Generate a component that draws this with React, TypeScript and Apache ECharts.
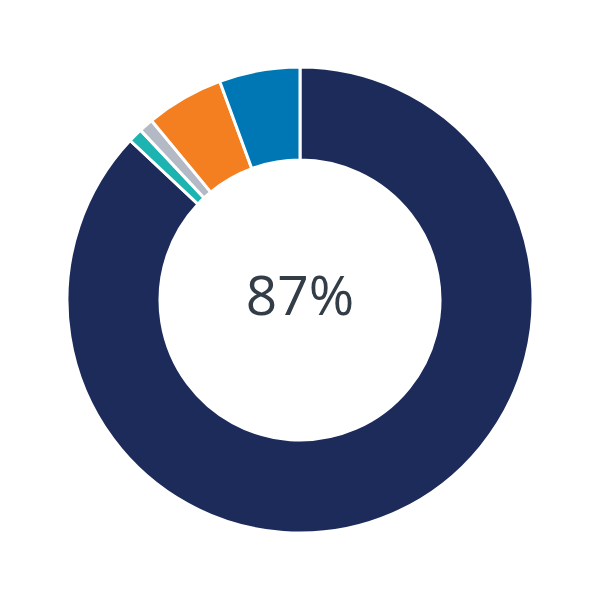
import React, { useEffect, useRef } from "react";
import * as echarts from "echarts";

const categories = ["Navy", "Teal", "Gray", "Orange", "Blue"];
const values = [87, 1.0, 1.0, 5.4, 5.6];
const colors = ["#1c2b5a", "#1db3b0", "#b3bac5", "#f47f20", "#0077b5"];
const centerLabel = "87%";

export default function App() {
  const ref = useRef<HTMLDivElement>(null);
  useEffect(() => {
    if (!ref.current) return;
    const chart = echarts.init(ref.current, null, { renderer: "svg" });
    chart.setOption({
      animation: false,
      backgroundColor: "#ffffff",
      graphic: [
        {
          type: "text",
          x: 300,
          y: 293,
          style: {
            text: centerLabel,
            fontSize: 55,
            fontFamily: "Open Sans",
            fill: "#333d47",
            align: "center",
            verticalAlign: "middle",
          },
        },
      ],
      series: [
        {
          type: "pie",
          center: ["50%", "50%"],
          radius: [140, 233],
          startAngle: 90,
          clockwise: true,
          label: { show: false },
          labelLine: { show: false },
          itemStyle: { borderColor: "#ffffff", borderWidth: 3 },
          data: categories.map((name, i) => ({
            name,
            value: values[i],
            itemStyle: { color: colors[i] },
          })),
        },
      ],
    });
    return () => chart.dispose();
  }, []);
  return (
    <div
      ref={ref}
      style={{ position: "fixed", left: 0, top: 0, width: 600, height: 600 }}
    />
  );
}
